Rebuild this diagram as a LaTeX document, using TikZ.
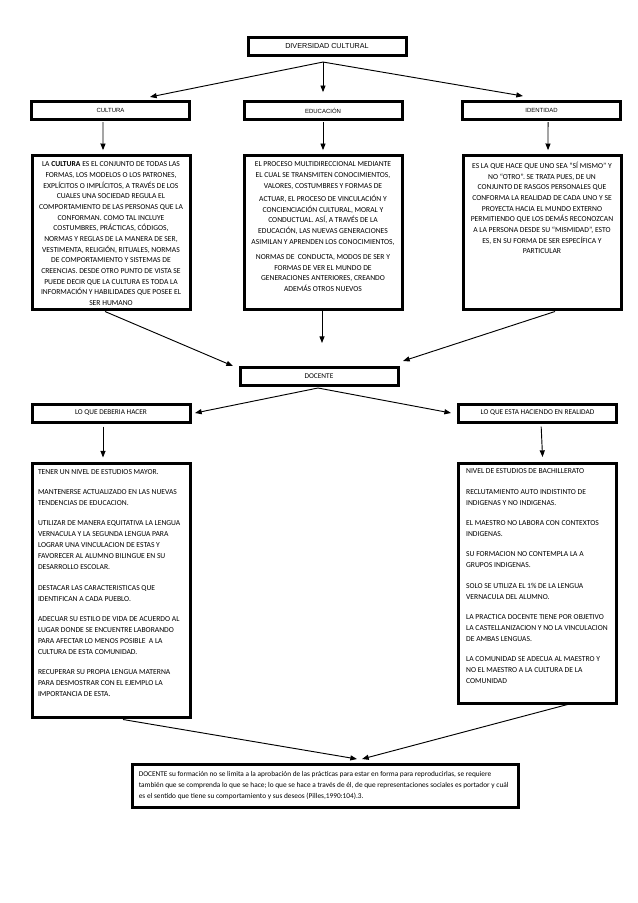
\documentclass[tikz,border=0pt]{standalone}
\usepackage{fontspec}
\setmainfont{Carlito}
\newfontfamily\arialfont{Liberation Sans}
\usetikzlibrary{arrows.meta}

\tikzset{
  marco/.style={draw, line width=2.25pt, inner sep=0pt, outer sep=0pt},
  titulo/.style={marco, minimum width=118.5pt, minimum height=13.5pt},
  texto/.style={marco, minimum width=118.5pt},
  flecha/.style={-{Triangle[length=5pt,width=3.8pt]}, line width=0.7pt},
}

\begin{document}
\begin{tikzpicture}[x=0.75pt,y=0.75pt,yscale=-1,xscale=1]
        \useasboundingbox (0,0) rectangle (638,903);

        %Titulo
        \node[titulo, font=\arialfont\fontsize{5.4}{6}\selectfont] (div) at (327,46.5) {DIVERSIDAD CULTURAL};

        %Conceptos
        \node[titulo, font=\arialfont\fontsize{4.5}{5}\selectfont] (cultura) at (110.5,110.5) {CULTURA};
        \node[titulo, font=\arialfont\fontsize{4.5}{5}\selectfont] (educacion) at (323,110.5) {EDUCACIÓN};
        \node[titulo, font=\arialfont\fontsize{4.5}{5}\selectfont] (identidad) at (541.5,110.5) {IDENTIDAD};

        %Definiciones
        \node[texto, minimum height=115.5pt, font=\fontsize{5.7}{8}\selectfont] (txtcultura) at (111,232.5) {\parbox[c][105.75pt][t]{112pt}{\centering
          LA \textbf{CULTURA} ES EL CONJUNTO DE TODAS LAS\\
          FORMAS, LOS MODELOS O LOS PATRONES,\\
          EXPLÍCITOS O IMPLÍCITOS, A TRAVÉS DE LOS\\
          CUALES UNA SOCIEDAD REGULA EL\\
          COMPORTAMIENTO DE LAS PERSONAS QUE LA\\
          CONFORMAN. COMO TAL INCLUYE\\
          COSTUMBRES, PRÁCTICAS, CÓDIGOS,\\
          NORMAS Y REGLAS DE LA MANERA DE SER,\\
          VESTIMENTA, RELIGIÓN, RITUALES, NORMAS\\
          DE COMPORTAMIENTO Y SISTEMAS DE\\
          CREENCIAS. DESDE OTRO PUNTO DE VISTA SE\\
          PUEDE DECIR QUE LA CULTURA ES TODA LA\\
          INFORMACIÓN Y HABILIDADES QUE POSEE EL\\
          SER HUMANO}};
        \node[texto, minimum height=115.5pt, font=\fontsize{5.7}{8.1}\selectfont] (txtedu) at (323,232.5) {\parbox[c][105.75pt][t]{112pt}{\centering
          EL PROCESO MULTIDIRECCIONAL MEDIANTE\\
          EL CUAL SE TRANSMITEN CONOCIMIENTOS,\\
          VALORES, COSTUMBRES Y FORMAS DE\\[1.5pt]
          ACTUAR, EL PROCESO DE VINCULACIÓN Y\\
          CONCIENCIACIÓN CULTURAL, MORAL Y\\
          CONDUCTUAL. ASÍ, A TRAVÉS DE LA\\
          EDUCACIÓN, LAS NUEVAS GENERACIONES\\
          ASIMILAN Y APRENDEN LOS CONOCIMIENTOS,\\[3pt]
          NORMAS DE~ CONDUCTA, MODOS DE SER Y\\
          FORMAS DE VER EL MUNDO DE\\
          GENERACIONES ANTERIORES, CREANDO\\
          ADEMÁS OTROS NUEVOS}};
        \node[texto, minimum height=115.5pt, font=\fontsize{5.7}{8}\selectfont] (txtident) at (542,232.5) {\parbox[c][105.75pt][t]{112pt}{\centering
          ES LA QUE HACE QUE UNO SEA “SÍ MISMO” Y\\
          NO “OTRO”. SE TRATA PUES, DE UN\\
          CONJUNTO DE RASGOS PERSONALES QUE\\
          CONFORMA LA REALIDAD DE CADA UNO Y SE\\
          PROYECTA HACIA EL MUNDO EXTERNO\\
          PERMITIENDO QUE LOS DEMÁS RECONOZCAN\\
          A LA PERSONA DESDE SU “MISMIDAD”, ESTO\\
          ES, EN SU FORMA DE SER ESPECÍFICA Y\\
          PARTICULAR}};

        %Docente
        \node[titulo, font=\fontsize{5.5}{6}\selectfont] (docente) at (319,376) {DOCENTE};
        \node[titulo, font=\fontsize{5.5}{6}\selectfont] (deber) at (111,413) {LO QUE DEBERIA HACER};
        \node[titulo, font=\fontsize{5.5}{6}\selectfont] (hace) at (537.5,413) {LO QUE ESTA HACIENDO EN REALIDAD};

        \node[texto, minimum height=190.5pt, font=\fontsize{5.7}{8.25}\selectfont] (txtdeber) at (111,590.5) {\parbox[c][182pt][t]{109.5pt}{\raggedright
          TENER UN NIVEL DE ESTUDIOS MAYOR.\\[7pt]
          MANTENERSE ACTUALIZADO EN LAS NUEVAS\\
          TENDENCIAS DE EDUCACION.\\[7pt]
          UTILIZAR DE MANERA EQUITATIVA LA LENGUA\\
          VERNACULA Y LA SEGUNDA LENGUA PARA\\
          LOGRAR UNA VINCULACION DE ESTAS Y\\
          FAVORECER AL ALUMNO BILINGUE EN SU\\
          DESARROLLO ESCOLAR.\\[7pt]
          DESTACAR LAS CARACTERISTICAS QUE\\
          IDENTIFICAN A CADA PUEBLO.\\[7pt]
          ADECUAR SU ESTILO DE VIDA DE ACUERDO AL\\
          LUGAR DONDE SE ENCUENTRE LABORANDO\\
          PARA AFECTAR LO MENOS POSIBLE~ A LA\\
          CULTURA DE ESTA COMUNIDAD.\\[7pt]
          RECUPERAR SU PROPIA LENGUA MATERNA\\
          PARA DESMOSTRAR CON EL EJEMPLO LA\\
          IMPORTANCIA DE ESTA.}};
        \node[texto, minimum height=180pt, font=\fontsize{5.7}{8.25}\selectfont] (txthace) at (537.5,583) {\parbox[c][171pt][t]{107pt}{\raggedright
          NIVEL DE ESTUDIOS DE BACHILLERATO\\[7pt]
          RECLUTAMIENTO AUTO INDISTINTO DE\\
          INDIGENAS Y NO INDIGENAS.\\[7pt]
          EL MAESTRO NO LABORA CON CONTEXTOS\\
          INDIGENAS.\\[7pt]
          SU FORMACION NO CONTEMPLA LA A\\
          GRUPOS INDIGENAS.\\[7pt]
          SOLO SE UTILIZA EL 1\% DE LA LENGUA\\
          VERNACULA DEL ALUMNO.\\[7pt]
          LA PRACTICA DOCENTE TIENE POR OBJETIVO\\
          LA CASTELLANIZACION Y NO LA VINCULACION\\
          DE AMBAS LENGUAS.\\[7pt]
          LA COMUNIDAD SE ADECUA AL MAESTRO Y\\
          NO EL MAESTRO A LA CULTURA DE LA\\
          COMUNIDAD}};

        %Cita
        \node[marco, minimum width=290pt, minimum height=32.25pt, font=\fontsize{5.5}{8.1}\selectfont] (cita) at (325.5,785.5) {\parbox{280pt}{\raggedright
          DOCENTE su formación no se limita a la aprobación de las prácticas para estar en forma para reproducirlas, se requiere\\
          también que se comprenda lo que se hace; lo que se hace a través de él, de que representaciones sociales es portador y cuál\\
          es el sentido que tiene su comportamiento y sus deseos (Pilles,1990:104).3.}};

        %Flechas
        \coordinate (pdiv) at ([xshift=-3pt,yshift=4.9pt]div.south);
        \draw[flecha] (pdiv) -- ([xshift=29.6pt,yshift=-3.4pt]cultura.north);
        \draw[flecha] (pdiv) -- ([yshift=-7pt]educacion.north);
        \draw[flecha] (pdiv) -- ([xshift=-13.9pt,yshift=-4.1pt]identidad.north);

        \draw[flecha, shorten <=2pt, shorten >=4pt] ([xshift=-5.6pt]cultura.south) -- ([xshift=-6pt]txtcultura.north);
        \draw[flecha, shorten <=2pt, shorten >=4pt] (educacion.south) -- (txtedu.north);
        \draw[flecha, shorten <=2pt, shorten >=4pt] ([xshift=4.9pt]identidad.south) -- ([xshift=4.5pt]txtident.north);

        \draw[flecha] ([xshift=-4.5pt,yshift=1.5pt]txtcultura.south) -- ([xshift=-5.25pt,yshift=-0.75pt]docente.north west);
        \draw[flecha] ([xshift=-0.75pt,yshift=1pt]txtedu.south) -- ([xshift=2.25pt,yshift=-18pt]docente.north);
        \draw[flecha] ([xshift=9.75pt,yshift=1.5pt]txtident.south) -- ([xshift=3.75pt,yshift=-4.5pt]docente.north east);

        \coordinate (pdoc) at ([xshift=-0.75pt,yshift=2.25pt]docente.south);
        \draw[flecha] (pdoc) -- ([xshift=3.75pt]deber.east);
        \draw[flecha] (pdoc) -- ([xshift=-5.6pt]hace.west);

        \draw[flecha, shorten <=3.5pt, shorten >=4.5pt] ([xshift=-6pt]deber.south) -- ([xshift=-6pt]txtdeber.north);
        \draw[flecha, shorten <=3.5pt, shorten >=4.5pt] ([xshift=2.6pt]hace.south) -- ([xshift=4pt]txthace.north);

        \draw[flecha] ([xshift=9pt,yshift=1.5pt]txtdeber.south) -- ([xshift=23.6pt,yshift=-3.75pt]cita.north);
        \draw[flecha] ([xshift=23pt,yshift=1pt]txthace.south) -- ([xshift=27.4pt,yshift=-3.75pt]cita.north);
\end{tikzpicture}
\end{document}
